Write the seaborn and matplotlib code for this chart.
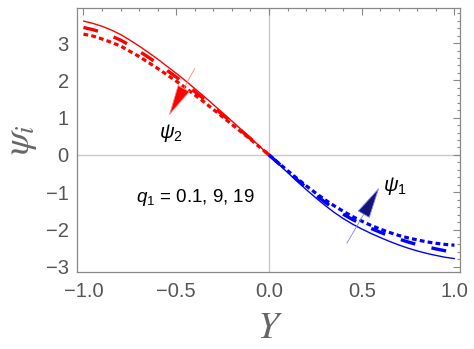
import matplotlib
matplotlib.use("Agg")
import matplotlib.pyplot as plt
import numpy as np
import pandas as pd
import seaborn as sns
from matplotlib.ticker import MultipleLocator

# ---------------- data ----------------
Y_red = [-1.0, -0.95, -0.9, -0.85, -0.8, -0.75, -0.7, -0.65, -0.6, -0.55, -0.5,
         -0.45, -0.4, -0.35, -0.3, -0.25, -0.2, -0.15, -0.1, -0.05, 0.0]
Y_blue = [0.0, 0.05, 0.1, 0.15, 0.2, 0.25, 0.3, 0.35, 0.4, 0.45, 0.5,
          0.55, 0.6, 0.65, 0.7, 0.75, 0.8, 0.85, 0.9, 0.95, 1.0]

psi2_q01 = [3.59, 3.53, 3.45, 3.35, 3.23, 3.08, 2.92, 2.75, 2.57, 2.38, 2.19,
            1.99, 1.78, 1.57, 1.35, 1.13, 0.91, 0.685, 0.46, 0.23, 0.0]
psi2_q9 = [3.42, 3.36, 3.29, 3.19, 3.08, 2.94, 2.78, 2.62, 2.45, 2.27, 2.09,
           1.90, 1.70, 1.50, 1.29, 1.08, 0.87, 0.65, 0.44, 0.22, 0.0]
psi2_q19 = [3.24, 3.19, 3.11, 3.02, 2.92, 2.78, 2.64, 2.48, 2.32, 2.15, 1.98,
            1.80, 1.61, 1.42, 1.22, 1.02, 0.82, 0.62, 0.42, 0.21, 0.0]

psi1_q01 = [0.0, -0.235, -0.47, -0.70, -0.925, -1.14, -1.345, -1.535, -1.705, -1.855, -1.985,
            -2.105, -2.215, -2.32, -2.415, -2.50, -2.575, -2.64, -2.695, -2.745, -2.78]
psi1_q9 = [0.0, -0.22, -0.44, -0.66, -0.87, -1.07, -1.26, -1.435, -1.59, -1.73, -1.855,
           -1.97, -2.075, -2.17, -2.255, -2.335, -2.405, -2.465, -2.52, -2.57, -2.62]
psi1_q19 = [0.0, -0.21, -0.42, -0.625, -0.825, -1.015, -1.195, -1.36, -1.51, -1.65, -1.775,
            -1.89, -1.99, -2.08, -2.16, -2.225, -2.28, -2.33, -2.37, -2.40, -2.42]

q1_values = ["0.1", "9", "19"]

x_ticks = [-1.0, -0.5, 0.0, 0.5, 1.0]
y_ticks = [-3, -2, -1, 0, 1, 2, 3]

# annotation arrows (tail, tip) in data coordinates
arrow2_tail = (-0.40, 2.32)
arrow2_tip = (-0.54, 1.05)
arrow1_tail = (0.42, -2.37)
arrow1_tip = (0.595, -0.87)

# ---------------- styling ----------------
sns.set_theme(style="white")
plt.rcParams["font.family"] = ["Liberation Sans", "DejaVu Sans"]
plt.rcParams["mathtext.fontset"] = "custom"
plt.rcParams["mathtext.rm"] = "Liberation Sans"
plt.rcParams["mathtext.it"] = "Liberation Sans:italic"

fig = plt.figure(figsize=(4.74, 3.49), dpi=100)
ax = fig.add_axes([0.1624, 0.2206, 0.8081, 0.7564])

red = "#ff0000"
blue = "#0000ff"

styles = {
    "0.1": dict(linewidth=1.0, linestyle="-"),
    "9": dict(linewidth=2.4, linestyle=(0, (4.5, 5.0))),
    "19": dict(linewidth=2.3, linestyle=(0, (1.5, 1.0))),
}

red_series = {"0.1": psi2_q01, "9": psi2_q9, "19": psi2_q19}
blue_series = {"0.1": psi1_q01, "9": psi1_q9, "19": psi1_q19}

# reference grid lines through the origin
ax.axhline(0, color="#c8c8c8", lw=1.0, zorder=0)
ax.axvline(0, color="#c8c8c8", lw=1.0, zorder=0)

for q in q1_values:
    df_r = pd.DataFrame({"Y": Y_red, "psi": red_series[q]})
    sns.lineplot(data=df_r, x="Y", y="psi", ax=ax, color=red,
                 estimator=None, sort=False, **styles[q])
    df_b = pd.DataFrame({"Y": Y_blue, "psi": blue_series[q]})
    sns.lineplot(data=df_b, x="Y", y="psi", ax=ax, color=blue,
                 estimator=None, sort=False, **styles[q])

# arrows
ax.annotate("", xy=arrow2_tip, xytext=arrow2_tail,
            arrowprops=dict(arrowstyle="-|>,head_length=1.1,head_width=0.24",
                            lw=0.6, edgecolor="#ff8080", facecolor=red,
                            shrinkA=0, shrinkB=0, mutation_scale=19))
ax.annotate("", xy=arrow1_tip, xytext=arrow1_tail,
            arrowprops=dict(arrowstyle="-|>,head_length=1.1,head_width=0.24",
                            lw=0.6, edgecolor="#8080ff", facecolor="#141478",
                            shrinkA=0, shrinkB=0, mutation_scale=19))

ax.text(-0.53, 0.58, r"$\psi_2$", fontsize=14.5, color="black",
        ha="center", va="center")
ax.text(0.68, -0.83, r"$\psi_1$", fontsize=14.5, color="black",
        ha="center", va="center")
ax.text(-0.715, -1.13, r"$q_1$ = " + ", ".join(q1_values), fontsize=13.5,
        color="black", ha="left", va="center")

# axes
ax.set_xlim(-1.035, 1.03)
ax.set_ylim(-3.14, 3.94)
ax.set_xticks(x_ticks)
ax.set_xticklabels([f"{v:.1f}".replace("-", "\u2212") for v in x_ticks])
ax.set_yticks(y_ticks)
ax.set_yticklabels([f"{v}".replace("-", "\u2212") for v in y_ticks])
ax.xaxis.set_minor_locator(MultipleLocator(0.1))
ax.yaxis.set_minor_locator(MultipleLocator(0.2))
ax.tick_params(which="both", direction="in", color="#888888", width=0.8,
               top=True, right=True, labelcolor="#555555", labelsize=14.5)
ax.tick_params(which="major", length=5)
ax.tick_params(which="minor", length=2.5)
ax.tick_params(axis="x", which="major", pad=7)
ax.tick_params(axis="y", which="major", pad=6)
for s in ax.spines.values():
    s.set_color("#888888")
    s.set_linewidth(0.9)

ax.set_xlabel(r"$Y$", fontsize=27, color="#666666", math_fontfamily="stix")
ax.set_ylabel(r"$\psi_i$", fontsize=27, color="#666666", math_fontfamily="stix")
ax.xaxis.set_label_coords(0.504, -0.145)
ax.yaxis.set_label_coords(-0.10, 0.5)

fig.savefig("out.png", dpi=100)
